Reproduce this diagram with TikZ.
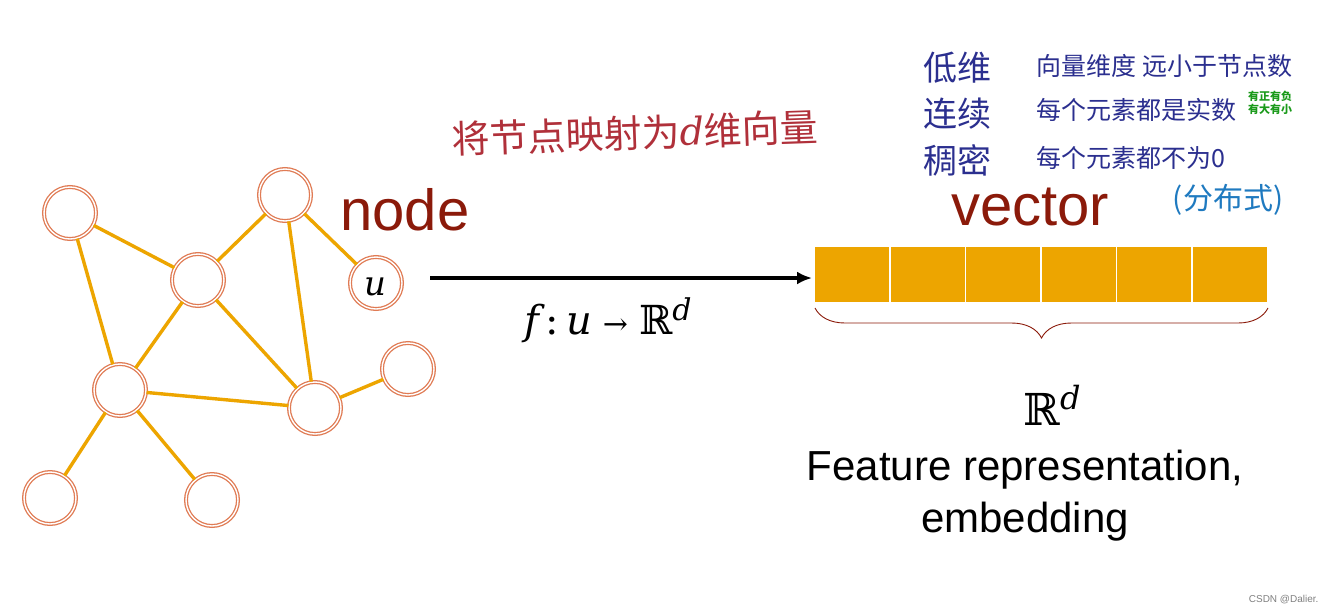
\documentclass[tikz,border=0pt]{standalone}
\usepackage{fontspec}
\setmainfont{Liberation Sans}
\newfontfamily\cjk{Noto Sans CJK SC}
\newfontfamily\dv{DejaVu Serif}
\usetikzlibrary{decorations.pathreplacing,arrows.meta}
\definecolor{nodeor}{HTML}{E07B54}
\definecolor{edgeor}{HTML}{EDA500}
\definecolor{darkred}{HTML}{8B1A0A}
\definecolor{hwblue}{HTML}{2B2F8F}
\definecolor{hwred}{HTML}{B0303A}
\definecolor{cblue}{HTML}{1F7AC0}
\definecolor{hgreen}{HTML}{1A9A1A}
\newcommand{\mvar}[1]{{\dv\itshape #1}}
\begin{document}
\begin{tikzpicture}[x=1pt,y=-1pt,
  gn/.style={circle,draw=nodeor,double=white,double distance=1.4pt,line width=1.3pt,minimum size=52pt,inner sep=0pt,fill=white},
  ed/.style={edgeor,line width=3.4pt},
  cell/.style={draw=white,line width=1.5pt,fill=edgeor,minimum width=75.5pt,minimum height=57pt,inner sep=0pt},
  hw/.style={font=\cjk\fontsize{25}{27}\selectfont,text=hwblue,anchor=west},
  hwb/.style={font=\cjk\fontsize{34}{36}\selectfont,text=hwblue,anchor=west}]
\useasboundingbox (0,0) rectangle (1330,614);
\fill[white] (0,0) rectangle (1330,614);
% graph
\node[gn] (A) at (70,213) {};
\node[gn] (B) at (285,195) {};
\node[gn] (C) at (198,280) {};
\node[gn] (U) at (376,283) {};
\node[gn] (D) at (120,390) {};
\node[gn] (E) at (315,408) {};
\node[gn] (F) at (408,369) {};
\node[gn] (G) at (50,498) {};
\node[gn] (H) at (212,500) {};
\node[font=\fontsize{34}{34}\selectfont] (ulbl) at (375,287) {\mvar{u}};
\foreach \a/\b in {A/C,C/B,B/U,B/E,C/D,C/E,A/D,D/E,E/F,D/G,D/H}
  \draw[ed] (\a) -- (\b);
\node[font=\fontsize{58}{58}\selectfont,text=darkred] (nodelbl) at (405,210) {node};
% arrow
\coordinate (arS) at (430,278);
\coordinate (arE) at (812,278);
\draw[line width=3.4pt,-{Latex[length=15pt,width=13pt]}] (arS) -- (arE);
\node[font=\fontsize{40}{40}\selectfont] (fmap) at (608,320) {\mvar{f}\,{\dv:}\,\mvar{u} {\dv\fontsize{30}{30}\selectfont →} {\dv ℝ}\raisebox{14pt}{\fontsize{30}{30}\selectfont\mvar{d}}};
\node[font=\cjk\fontsize{38}{40}\selectfont,text=hwred,rotate=2] (map) at (635,133) {将节点映射为\mvar{d}维向量};
% vector
\foreach \i in {0,...,5}
  \node[cell] (c\i) at ({852.25+75.5*\i},274.5) {};
\node[font=\fontsize{58}{58}\selectfont,text=darkred] (veclbl) at (1030,207) {vector};
\node[font=\cjk\fontsize{30}{32}\selectfont,text=cblue] (dist) at (1228,200) {(分布式)};
\coordinate (brL) at (815,308);
\coordinate (brR) at (1268,308);
\draw[darkred,line width=0.9pt,decorate,decoration={brace,mirror,amplitude=30pt}] (brL) -- (brR);
\node[font=\fontsize{44}{44}\selectfont] (rd) at (1052,405) {{\dv ℝ}\raisebox{16pt}{\fontsize{32}{32}\selectfont\mvar{d}}};
\node[font=\fontsize{42}{46}\selectfont] (feat) at (1025,470) {Feature representation,};
\node[font=\fontsize{42}{46}\selectfont] (emb) at (1025,522) {embedding};
% handwritten notes
\node[hwb] (t1) at (920,68) {低维};
\node[hwb] (t2) at (920,114) {连续};
\node[hwb] (t3) at (920,160) {稠密};
\node[hw] (s1) at (1033,66) {向量维度 远小于节点数};
\node[hw] (s2) at (1033,110) {每个元素都是实数};
\node[hw] (s3) at (1033,158) {每个元素都不为0};
\node[font=\cjk\bfseries\fontsize{11}{13}\selectfont,text=hgreen,align=center] (g) at (1270,103) {有正有负\\有大有小};
\node[font=\fontsize{10}{11}\selectfont,text=gray,anchor=east] (csdn) at (1322,600) {CSDN @Dalier.};
\end{tikzpicture}
\end{document}
